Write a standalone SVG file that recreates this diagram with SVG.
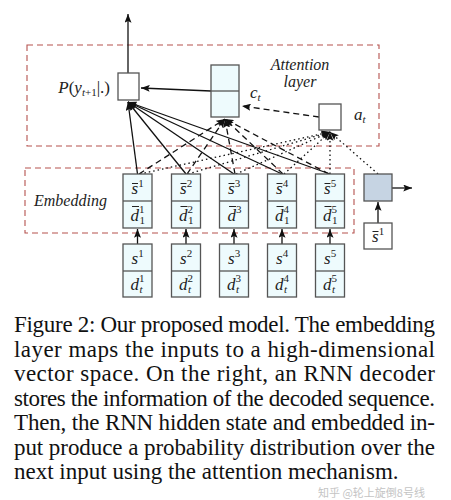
<svg xmlns="http://www.w3.org/2000/svg" width="451" height="500" viewBox="0 0 451 500">
<style>
.bg{fill:#fff}
.region{fill:none;stroke:#b5524f;stroke-width:1.1;stroke-dasharray:6 4}
.box{fill:#eefbfd;stroke:#555;stroke-width:1.3}
.wbox{fill:#fff;stroke:#555;stroke-width:1.3}
.bbox{fill:#c6d4e3;stroke:#555;stroke-width:1.3}
.div{stroke:#555;stroke-width:1.3}
.bar{stroke:#222;stroke-width:1}
.m{font-family:"Liberation Serif",serif;font-style:italic;font-size:17px;fill:#222}
.r{font-family:"Liberation Serif",serif;font-size:17px;fill:#222}
.sup{font-family:"Liberation Serif",serif;font-style:normal;font-size:11px}
.sub{font-family:"Liberation Serif",serif;font-style:italic;font-size:11px}
.lbl{font-family:"Liberation Serif",serif;font-style:italic;font-size:16px;fill:#222}
.solid{stroke:#111;stroke-width:1.3;fill:none}
.dash{stroke:#111;stroke-width:1.3;fill:none;stroke-dasharray:6 4}
.dot{stroke:#111;stroke-width:1.3;fill:none;stroke-dasharray:1.5 3}
.cap{font-family:"Liberation Serif",serif;font-size:23px;fill:#111}
.wm{font-family:"Noto Sans CJK SC",sans-serif;font-size:11px;fill:#c4c4c4}
</style>
<defs>
<marker id="ah" viewBox="0 0 10 8" refX="10" refY="4" markerWidth="9" markerHeight="7" markerUnits="userSpaceOnUse" orient="auto">
<path d="M0,0 L10,4 L0,8 L2,4 z" fill="#111"/>
</marker>
</defs>
<rect class="bg" x="0" y="0" width="451" height="500"/>

<g id="regions">
<rect class="region" x="27" y="45" width="352" height="101"/>
<rect class="region" x="25" y="168" width="329" height="65"/>
<text class="lbl" x="300" y="70" text-anchor="middle">Attention</text>
<text class="lbl" x="300" y="87" text-anchor="middle">layer</text>
<text class="lbl" x="34" y="206" font-size="17">Embedding</text>
</g>

<g id="connectors">
<line class="solid" x1="128" y1="73" x2="128" y2="14" marker-end="url(#ah)"/>
<line class="solid" x1="211" y1="91" x2="141" y2="88" marker-end="url(#ah)"/>
<line class="dash" x1="319" y1="117" x2="242" y2="106" marker-end="url(#ah)"/>
<line class="solid" x1="137.5" y1="174" x2="128" y2="102" marker-end="url(#ah)"/>
<line class="solid" x1="186" y1="174" x2="128" y2="102" marker-end="url(#ah)"/>
<line class="solid" x1="234" y1="174" x2="128" y2="102" marker-end="url(#ah)"/>
<line class="solid" x1="282" y1="174" x2="128" y2="102" marker-end="url(#ah)"/>
<line class="solid" x1="330" y1="174" x2="128" y2="102" marker-end="url(#ah)"/>
<line class="dash" x1="139" y1="174" x2="225" y2="119" marker-end="url(#ah)"/>
<line class="dash" x1="187" y1="174" x2="225" y2="119" marker-end="url(#ah)"/>
<line class="dash" x1="235" y1="174" x2="225" y2="119" marker-end="url(#ah)"/>
<line class="dash" x1="283" y1="174" x2="225" y2="119" marker-end="url(#ah)"/>
<line class="dash" x1="329" y1="174" x2="225" y2="119" marker-end="url(#ah)"/>
<line class="dot" x1="140" y1="174" x2="330" y2="132" marker-end="url(#ah)"/>
<line class="dot" x1="188" y1="174" x2="330" y2="132" marker-end="url(#ah)"/>
<line class="dot" x1="236" y1="174" x2="330" y2="132" marker-end="url(#ah)"/>
<line class="dot" x1="284" y1="174" x2="330" y2="132" marker-end="url(#ah)"/>
<line class="dot" x1="330" y1="174" x2="330" y2="132" marker-end="url(#ah)"/>
<line class="dot" x1="378" y1="174" x2="330" y2="132" marker-end="url(#ah)"/>
<line class="solid" x1="137.5" y1="244" x2="137.5" y2="229" marker-end="url(#ah)"/>
<line class="solid" x1="186" y1="244" x2="186" y2="229" marker-end="url(#ah)"/>
<line class="solid" x1="234" y1="244" x2="234" y2="229" marker-end="url(#ah)"/>
<line class="solid" x1="282" y1="244" x2="282" y2="229" marker-end="url(#ah)"/>
<line class="solid" x1="330" y1="244" x2="330" y2="229" marker-end="url(#ah)"/>
<line class="solid" x1="378" y1="223" x2="378" y2="202" marker-end="url(#ah)"/>
<line class="solid" x1="392" y1="188" x2="412" y2="188" marker-end="url(#ah)"/>
</g>

<g id="node-p">
<rect class="wbox" x="118" y="73" width="21" height="27"/>
<text class="r" x="110" y="93" text-anchor="end"><tspan class="m">P</tspan>(<tspan class="m">y</tspan><tspan class="sub" dy="3">t</tspan><tspan class="sup">+1</tspan><tspan dy="-3">|.)</tspan></text>
</g>

<g id="node-ct">
<rect class="box" x="211" y="65" width="28" height="52"/>
<line class="div" x1="211" y1="91" x2="239" y2="91"/>
<text class="m" x="250" y="98">c<tspan class="sub" dy="3">t</tspan></text>
</g>

<g id="node-at">
<rect class="wbox" x="319" y="104" width="22" height="26"/>
<text class="m" x="354" y="120">a<tspan class="sub" dy="3">t</tspan></text>
</g>

<g id="emb1">
<rect class="box" x="123" y="174" width="29" height="54"/>
<line class="div" x1="123" y1="201" x2="152" y2="201"/>
<text class="m" x="131.5" y="194">s<tspan class="sup" dy="-7">1</tspan></text>
<line class="bar" x1="132" y1="183.5" x2="138" y2="183.5"/>
<text class="m" x="130.5" y="221">d<tspan class="sup" dy="-8">1</tspan><tspan class="sup" x="139.5" dy="11">1</tspan></text>
<line class="bar" x1="132" y1="206.5" x2="139" y2="206.5"/>
</g>
<g id="emb2">
<rect class="box" x="171.5" y="174" width="29" height="54"/>
<line class="div" x1="171.5" y1="201" x2="200.5" y2="201"/>
<text class="m" x="180" y="194">s<tspan class="sup" dy="-7">2</tspan></text>
<line class="bar" x1="180.5" y1="183.5" x2="186.5" y2="183.5"/>
<text class="m" x="179" y="221">d<tspan class="sup" dy="-8">2</tspan><tspan class="sup" x="188" dy="11">1</tspan></text>
<line class="bar" x1="180.5" y1="206.5" x2="187.5" y2="206.5"/>
</g>
<g id="emb3">
<rect class="box" x="219.5" y="174" width="29" height="54"/>
<line class="div" x1="219.5" y1="201" x2="248.5" y2="201"/>
<text class="m" x="228" y="194">s<tspan class="sup" dy="-7">3</tspan></text>
<line class="bar" x1="228.5" y1="183.5" x2="234.5" y2="183.5"/>
<text class="m" x="227.5" y="221">d<tspan class="sup" dy="-8">3</tspan></text>
<line class="bar" x1="229" y1="206.5" x2="236" y2="206.5"/>
</g>
<g id="emb4">
<rect class="box" x="267.5" y="174" width="29" height="54"/>
<line class="div" x1="267.5" y1="201" x2="296.5" y2="201"/>
<text class="m" x="276" y="194">s<tspan class="sup" dy="-7">4</tspan></text>
<line class="bar" x1="276.5" y1="183.5" x2="282.5" y2="183.5"/>
<text class="m" x="275" y="221">d<tspan class="sup" dy="-8">4</tspan><tspan class="sup" x="284" dy="11">1</tspan></text>
<line class="bar" x1="276.5" y1="206.5" x2="283.5" y2="206.5"/>
</g>
<g id="emb5">
<rect class="box" x="315.5" y="174" width="29" height="54"/>
<line class="div" x1="315.5" y1="201" x2="344.5" y2="201"/>
<text class="m" x="324" y="194">s<tspan class="sup" dy="-7">5</tspan></text>
<line class="bar" x1="324.5" y1="183.5" x2="330.5" y2="183.5"/>
<text class="m" x="323" y="221">d<tspan class="sup" dy="-8">5</tspan><tspan class="sup" x="332" dy="11">1</tspan></text>
<line class="bar" x1="324.5" y1="206.5" x2="331.5" y2="206.5"/>
</g>

<g id="in1">
<rect class="box" x="123" y="244" width="29" height="53"/>
<line class="div" x1="123" y1="271" x2="152" y2="271"/>
<text class="m" x="131.5" y="264">s<tspan class="sup" dy="-7">1</tspan></text>
<text class="m" x="130.5" y="290">d<tspan class="sup" dy="-8">1</tspan><tspan class="sub" x="139.5" dy="11">t</tspan></text>
</g>
<g id="in2">
<rect class="box" x="171.5" y="244" width="29" height="53"/>
<line class="div" x1="171.5" y1="271" x2="200.5" y2="271"/>
<text class="m" x="180" y="264">s<tspan class="sup" dy="-7">2</tspan></text>
<text class="m" x="179" y="290">d<tspan class="sup" dy="-8">2</tspan><tspan class="sub" x="188" dy="11">t</tspan></text>
</g>
<g id="in3">
<rect class="box" x="219.5" y="244" width="29" height="53"/>
<line class="div" x1="219.5" y1="271" x2="248.5" y2="271"/>
<text class="m" x="228" y="264">s<tspan class="sup" dy="-7">3</tspan></text>
<text class="m" x="227" y="290">d<tspan class="sup" dy="-8">3</tspan><tspan class="sub" x="236" dy="11">t</tspan></text>
</g>
<g id="in4">
<rect class="box" x="267.5" y="244" width="29" height="53"/>
<line class="div" x1="267.5" y1="271" x2="296.5" y2="271"/>
<text class="m" x="276" y="264">s<tspan class="sup" dy="-7">4</tspan></text>
<text class="m" x="275" y="290">d<tspan class="sup" dy="-8">4</tspan><tspan class="sub" x="284" dy="11">t</tspan></text>
</g>
<g id="in5">
<rect class="box" x="315.5" y="244" width="29" height="53"/>
<line class="div" x1="315.5" y1="271" x2="344.5" y2="271"/>
<text class="m" x="324" y="264">s<tspan class="sup" dy="-7">5</tspan></text>
<text class="m" x="323" y="290">d<tspan class="sup" dy="-8">5</tspan><tspan class="sub" x="332" dy="11">t</tspan></text>
</g>

<g id="rnn">
<rect class="bbox" x="364" y="174" width="28" height="27"/>
</g>
<g id="dec-in">
<rect class="wbox" x="364" y="223" width="28" height="26"/>
<text class="m" x="372" y="242">s<tspan class="sup" dy="-7">1</tspan></text>
<line class="bar" x1="372.5" y1="231.5" x2="378.5" y2="231.5"/>
</g>

<g id="caption">
<text class="cap" x="14" y="332" textLength="421" lengthAdjust="spacing">Figure 2: Our proposed model. The embedding</text>
<text class="cap" x="14" y="356.5" textLength="421" lengthAdjust="spacing">layer maps the inputs to a high-dimensional</text>
<text class="cap" x="14" y="381" textLength="421" lengthAdjust="spacing">vector space.  On the right, an RNN decoder</text>
<text class="cap" x="14" y="405.5" textLength="421" lengthAdjust="spacing">stores the information of the decoded sequence.</text>
<text class="cap" x="14" y="430" textLength="421" lengthAdjust="spacing">Then, the RNN hidden state and embedded in-</text>
<text class="cap" x="14" y="454.5" textLength="421" lengthAdjust="spacing">put produce a probability distribution over the</text>
<text class="cap" x="14" y="479">next input using the attention mechanism.</text>
<text class="wm" x="318" y="497">知乎 @轮上旋倒8号线</text>
</g>
</svg>
